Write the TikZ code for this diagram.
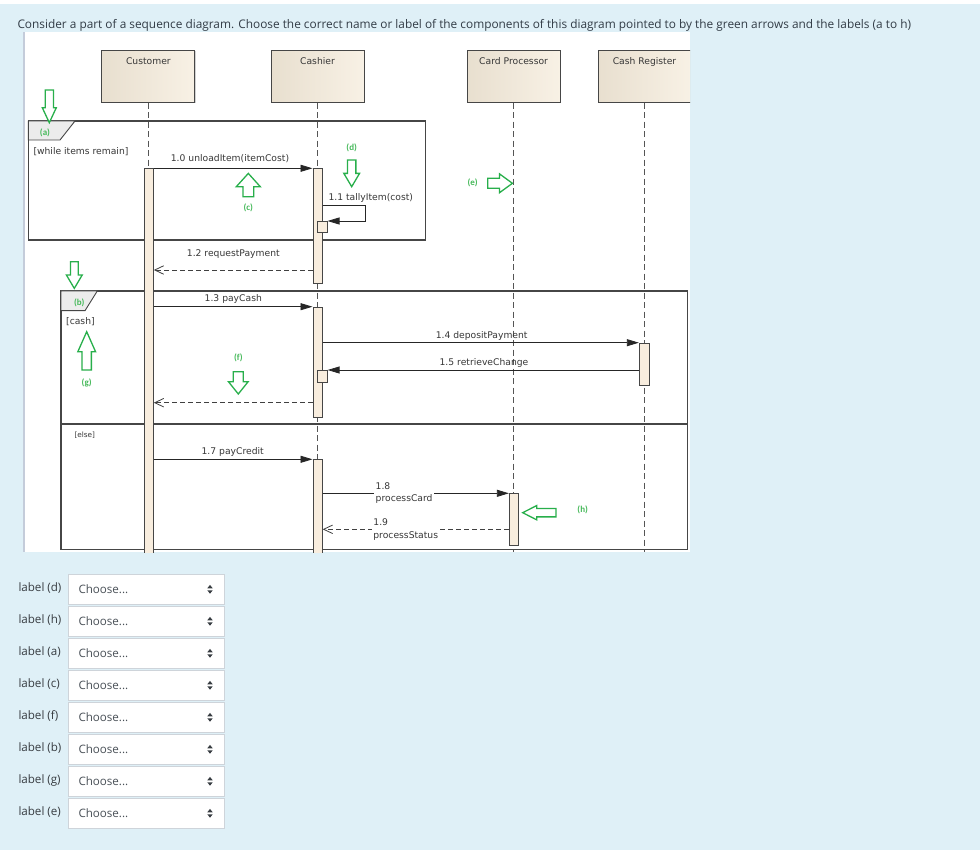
\documentclass[tikz,border=0pt]{standalone}
\usepackage{fontspec}
\usetikzlibrary{arrows.meta,shadows}
\newfontfamily\uifont{Open Sans}
\newfontfamily\diafont{DejaVu Sans}
\newfontfamily\glfont{Carlito}
\definecolor{bgblue}{RGB}{223,240,247}
\definecolor{edgegray}{RGB}{196,204,218}
\definecolor{framegray}{RGB}{70,70,70}
\definecolor{lifegray}{RGB}{85,85,85}
\definecolor{headA}{RGB}{232,223,207}
\definecolor{headB}{RGB}{248,241,229}
\definecolor{actfill}{RGB}{248,237,222}
\definecolor{txtgray}{RGB}{55,55,55}
\definecolor{garrow}{RGB}{40,175,75}
\definecolor{glabel}{RGB}{70,185,90}
\definecolor{titlecol}{RGB}{50,60,70}
\definecolor{formtxt}{RGB}{55,60,65}
\definecolor{choosetxt}{RGB}{73,80,87}
\definecolor{selborder}{RGB}{206,212,218}
\definecolor{tabfill}{RGB}{236,236,236}
\begin{document}
\begin{tikzpicture}[x=1pt,y=-1pt,
  every node/.style={inner sep=0pt},
  headbox/.style={draw=framegray, line width=0.9pt, minimum width=93pt, minimum height=52pt,
    left color=headA, right color=headB,
    drop shadow={shadow xshift=1.3pt, shadow yshift=-1.3pt, opacity=0.35}},
  headtxt/.style={font=\diafont\fontsize{9.2}{11}\selectfont, text=txtgray, anchor=base},
  lifeline/.style={draw=lifegray, line width=0.9pt, dash pattern=on 6pt off 3.5pt},
  frame/.style={draw=framegray, line width=1.2pt},
  tab/.style={draw=framegray, line width=0.9pt, fill=tabfill},
  act/.style={draw=framegray, fill=actfill, line width=0.9pt, minimum width=9.3pt, anchor=north},
  msg/.style={draw=black!85, line width=0.8pt, -{Triangle[length=12pt,width=7pt]}},
  ret/.style={draw=black!75, line width=0.8pt, dash pattern=on 5pt off 3pt, -{Straight Barb[length=9pt,width=8.5pt]}},
  msgtxt/.style={font=\diafont\fontsize{9.2}{11}\selectfont, text=txtgray, anchor=base},
  guard/.style={msgtxt, anchor=base west},
  glab/.style={font=\glfont\bfseries\fontsize{9}{10}\selectfont, text=glabel},
  garr/.style={draw=garrow, line width=1.3pt, fill=white, line join=miter},
  pics/blk/.style n args={4}{code={\path[garr] (0,-#3/2) -- (#1-#4,-#3/2) -- (#1-#4,-#2/2) -- (#1,0) -- (#1-#4,#2/2) -- (#1-#4,#3/2) -- (0,#3/2) -- cycle;}},
  selbox/.style={draw=selborder, line width=1pt, fill=white, minimum width=156pt, minimum height=29.3pt, anchor=north west},
  formlab/.style={font=\uifont\fontsize{11.6}{13}\selectfont, text=formtxt, anchor=base west},
  choose/.style={font=\uifont\fontsize{11.6}{13}\selectfont, text=choosetxt, anchor=base west}
]
\useasboundingbox (0,0) rectangle (980,850);
\fill[bgblue] (0,0) rectangle (980,850);
\fill[white] (0,0) rectangle (980,4.5);

% title
\node[font=\uifont\fontsize{11.85}{13}\selectfont, text=titlecol, anchor=base west] (title) at (17.3,29)
  {Consider a part of a sequence diagram. Choose the correct name or label of the components of this diagram pointed to by the green arrows and the labels (a to h)};

% diagram image
\fill[edgegray] (22.7,32.3) rectangle (25.3,552.3);
\fill[white] (25.3,32.3) rectangle (690,552.3);
\begin{scope}
\clip (25.3,32.3) rectangle (690,552.3);

% lifeline heads
\node[headbox] (cust) at (148.4,76.2) {};
\node[headbox] (cash) at (317.5,76.2) {};
\node[headbox] (card) at (513.6,76.2) {};
\node[headbox] (reg)  at (644.5,76.2) {};
\node[headtxt] (custT) at (148.4,64.5) {Customer};
\node[headtxt] (cashT) at (317.5,64.5) {Cashier};
\node[headtxt] (cardT) at (513.6,64.5) {Card Processor};
\node[headtxt] (regT)  at (644.5,64.5) {Cash Register};

% lifelines
\draw[lifeline] (cust.south) -- (cust.south |- 0,552.3);
\draw[lifeline] (cash.south) -- (cash.south |- 0,552.3);
\draw[lifeline] (card.south) -- (card.south |- 0,552.3);
\draw[lifeline] (reg.south)  -- (reg.south |- 0,552.3);

% loop frame (a)
\draw[frame] (28.3,121) rectangle (425.7,240);
\draw[tab] (28.3,121) -- (75,121) -- (60,140) -- (28.3,140) -- cycle;
\node[guard] (wguard) at (33.3,155) {[while items remain]};

% alt frame (b)
\draw[frame] (61,291) rectangle (687.3,549.5);
\draw[frame] (61,424) -- (687.3,424);
\draw[tab] (61,291) -- (97.3,291) -- (85,310.7) -- (61,310.7) -- cycle;
\node[guard] (cguard) at (66,325) {[cash]};
\node[guard, font=\diafont\fontsize{7.3}{9}\selectfont] (eguard) at (74.3,437) {[else]};

% activation bars
\node[act, minimum height=400pt] (custbar) at (148.7,168.3) {};
\node[act, minimum height=115pt] (cash1) at (317.6,168.3) {};
\node[act, minimum height=110pt] (cash2) at (317.6,306.7) {};
\node[act, minimum height=110pt] (cash3) at (317.6,459.3) {};
\node[act, minimum height=42.3pt, minimum width=10pt] (regbar) at (644.3,342.7) {};
\node[act, minimum height=51.7pt] (cardbar) at (514,493.3) {};
\node[act, minimum height=10.7pt] (sb1) at (322.4,221) {};
\node[act, minimum height=12.3pt] (sb2) at (322.5,370) {};

% messages
\draw[msg] (custbar.east |- cash1.north) -- (cash1.north west);
\node[msgtxt] (m10) at (230,162) {1.0 unloadItem(itemCost)};

\coordinate (selfA) at (365,205.7);
\coordinate (selfB) at (365,221);
\draw[msg] (cash1.east |- selfA) -- (selfA) -- (selfB) -- (sb1.north east);
\node[msgtxt, anchor=base west] (m11) at (328.3,201) {1.1 tallyItem(cost)};

\draw[ret] (cash1.west |- 0,270) -- (custbar.east |- 0,270);
\node[msgtxt] (m12) at (233.3,256.5) {1.2 requestPayment};

\draw[msg] (custbar.east |- cash2.north) -- (cash2.north west);
\node[msgtxt] (m13) at (233.3,301.5) {1.3 payCash};

\draw[msg] (cash2.east |- regbar.north) -- (regbar.north west);
\node[msgtxt] (m14) at (481.7,338) {1.4 depositPayment};

\draw[msg] (regbar.west |- sb2.north) -- (sb2.north east);
\node[msgtxt] (m15) at (484,365) {1.5 retrieveChange};

\draw[ret] (cash2.west |- 0,402.7) -- (custbar.east |- 0,402.7);

\draw[msg] (custbar.east |- cash3.north) -- (cash3.north west);
\node[msgtxt] (m17) at (232.7,454.5) {1.7 payCredit};

\draw[msg] (cash3.east |- cardbar.north) -- (cardbar.north west);
\node[msgtxt, anchor=base west, fill=white, inner xsep=1.5pt, inner ysep=3pt] (m18b) at (374,501.5) {processCard};
\node[msgtxt, anchor=base west] (m18a) at (375.5,489) {1.8};

\draw[ret] (cardbar.west |- 0,529.3) -- (cash3.east |- 0,529.3);
\node[msgtxt, anchor=base west, fill=white, inner xsep=1.5pt, inner ysep=3pt] (m19b) at (371.7,538) {processStatus};
\node[msgtxt, anchor=base west] (m19a) at (373.2,525.5) {1.9};

% green arrows and labels
\pic[rotate=-90] at (49.3,90) {blk={32.7}{14}{8.3}{15}};
\node[glab] (la) at (45,133.3) {(a)};
\pic[rotate=-90] at (74.3,261.7) {blk={26.7}{15.7}{7.7}{13.3}};
\node[glab] (lb) at (79.3,303.3) {(b)};
\pic[rotate=90] at (86.7,370) {blk={38.3}{17.7}{9.3}{20}};
\node[glab] (lg) at (86.7,383.3) {(g)};
\pic[rotate=90] at (248.3,196.7) {blk={23.3}{24}{10.7}{13.3}};
\node[glab] (lc) at (248.3,208.3) {(c)};
\pic[rotate=-90] at (351.7,160) {blk={26.7}{15.7}{8.3}{13.3}};
\node[glab] (ld) at (351.7,147.7) {(d)};
\pic[rotate=-90] at (238.3,371.7) {blk={22.3}{19.7}{10}{12.3}};
\node[glab] (lf) at (238.3,358.3) {(f)};
\pic at (487.7,183.3) {blk={24.7}{19}{10}{13}};
\node[glab] (le) at (472.7,183.3) {(e)};
\pic[rotate=180] at (556,512.7) {blk={33.3}{14.3}{8.3}{14}};
\node[glab] (lh) at (582.7,510) {(h)};
\end{scope}

% answer form
\foreach \l [count=\i from 0] in {d,h,a,c,f,b,g,e} {
  \pgfmathsetmacro\yt{574.3+32*\i}
  \node[selbox] (sel\l) at (68.3,\yt) {};
  \node[formlab] (lab\l) at (18.3,\yt+16.7) {label (\l)};
  \node[choose] (ch\l) at (78.3,\yt+19) {Choose...};
  \fill[formtxt] (207.3,\yt+14) -- (212.7,\yt+14) -- (210,\yt+10.6) -- cycle;
  \fill[formtxt] (207.3,\yt+16) -- (212.7,\yt+16) -- (210,\yt+19.4) -- cycle;
}
\end{tikzpicture}
\end{document}
